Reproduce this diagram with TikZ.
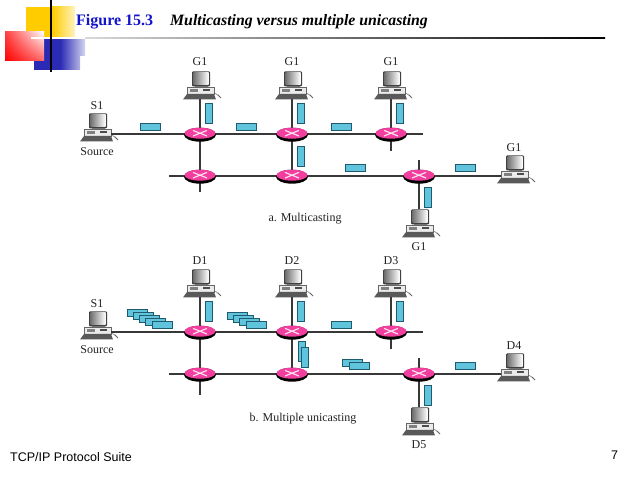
\documentclass[tikz,border=0pt]{standalone}
\usepackage{fontspec}
\setmainfont{Liberation Serif}
\newfontfamily\arialf{Liberation Sans}
\usetikzlibrary{shapes.geometric,shadings}
\definecolor{pk}{HTML}{5FC4DC}
\definecolor{pkb}{HTML}{1F5A6E}
\definecolor{rose}{HTML}{F23E9E}
\definecolor{txt}{HTML}{222222}
\definecolor{figblue}{HTML}{1414C8}
\definecolor{dkblue}{HTML}{2A2AB4}
\definecolor{gold}{HTML}{FFCC00}
\tikzset{
  lbl/.style={font=\fontsize{12}{14}\selectfont,text=txt,inner sep=0pt},
  wire/.style={draw=black!78,line width=1.2pt},
  hpk/.style={draw=pkb,fill=pk,line width=.6pt,minimum width=20pt,minimum height=7pt,inner sep=0pt},
  vpk/.style={draw=pkb,fill=pk,line width=.6pt,minimum width=7pt,minimum height=20pt,inner sep=0pt},
  rtbase/.style={ellipse,fill=black,minimum width=32pt,minimum height=14pt,inner sep=0pt},
}
% computer: #1 name, #2 x, #3 y (monitor centre)
\newcommand{\pcat}[3]{%
  \begin{scope}[shift={(#2,#3)}]
    \fill[black!75,rounded corners=1pt] (-8,-8.5) rectangle (10,6.5);
    \shade[left color=black!55,right color=white] (-6.5,-7) rectangle (8.5,5);
    \fill[black!55] (-5,6.5) rectangle (8,7.5);
    \fill[black!8] (-13,7.5) rectangle (14,14);
    \draw[black!60,line width=.5pt] (-13,7.5) rectangle (14,14);
    \fill[black!50] (-10,9.5) rectangle (-2,11.8);
    \fill[black!70] (3,9.5) rectangle (10,11);
    \fill[black!65] (-13,14) -- (14,14) -- (16,19.5) -- (-17,19.5) -- cycle;
    \draw[black!60,line width=.5pt] (14,13) .. controls (16,13) and (17,15) .. (19,16);
    \draw[black!60,line width=.9pt] (18,15) -- (21,18);
    \coordinate (#1) at (0,-8.5);
    \coordinate (#1b) at (0,19.5);
    \coordinate (#1r) at (14,12);
    \coordinate (#1l) at (-13,12);
  \end{scope}}
% router
\newcommand{\rtr}[3]{%
  \node[rtbase] (#1b) at (#2,#3+.7) {};
  \node[ellipse,fill=rose,minimum width=31pt,minimum height=11pt,inner sep=0pt] (#1) at (#2,#3-.8) {};
  \draw[white!85!rose,line width=1.2pt] (#2-7,#3-3.6) -- (#2+7,#3+2) (#2-7,#3+2) -- (#2+7,#3-3.6);}
\begin{document}
\begin{tikzpicture}[x=1pt,y=-1pt]
\useasboundingbox (0,0) rectangle (638,478);
\fill[white] (0,0) rectangle (638,478);
% decoration
\fill[gold] (26,7) rectangle (52,37);
\shade[left color=gold,right color=gold!25] (52,7) rectangle (75,37);
\fill[dkblue] (34,39) rectangle (60,70);
\shade[left color=dkblue,right color=dkblue!20] (60,39) -- (60,70) -- (80,70) -- (80,56) -- (85,56) -- (85,39) -- cycle;
\shade[lower left=red,upper right=white,lower right=red!60,upper left=red!75] (5,32) rectangle (44,61);
\shade[left color=black!15,right color=black] (85,37.2) rectangle (605,38.8);
\fill[white] (31,37.2) rectangle (85,38.8);
\fill[black] (49.5,0) rectangle (51.5,72);
\node[anchor=base west,inner sep=0pt,text=figblue,font=\fontsize{16}{18}\selectfont\bfseries] (figt) at (76,25.5) {Figure 15.3};
\node[anchor=base west,inner sep=0pt,text=black,font=\fontsize{15.8}{18}\selectfont\bfseries\itshape] (figc) at (170,25.5) {Multicasting versus multiple unicasting};
\node[anchor=base west,inner sep=0pt,font=\fontsize{12.5}{14}\selectfont\arialf] (foot) at (10,462) {TCP/IP Protocol Suite};
\node[anchor=base west,inner sep=0pt,font=\fontsize{12.5}{14}\selectfont\arialf] (pageno) at (611,460) {7};
% part a
\pcat{as}{97}{122}
\pcat{a1}{200}{80}
\pcat{a2}{292}{80}
\pcat{a3}{391}{80}
\pcat{a4}{514}{164}
\pcat{a5}{419}{218}
\coordinate (atopend) at (423,134);
\coordinate (a3down) at (391,151);
\coordinate (a6down) at (200,192);
\coordinate (abotleft) at (169,176);
\coordinate (a7up) at (419,160);
\coordinate (ra5c) at (292,176);
\draw[wire] (asr) -- (atopend);
\draw[wire] (abotleft) -- (a4l);
\draw[wire] (a1b) -- (a6down);
\draw[wire] (a2b) -- (ra5c);
\draw[wire] (a3b) -- (a3down);
\draw[wire] (a7up) -- (a5);
\rtr{ra1}{200}{134}\rtr{ra2}{292}{134}\rtr{ra3}{391}{134}
\rtr{ra4}{200}{176}\rtr{ra5}{292}{176}\rtr{ra6}{419}{176}
\foreach \n/\x/\y in {p1/150/127,p2/246/127,p3/341/127,p4/355/168,p5/465/168}
  \node[hpk] (a\n) at (\x,\y) {};
\foreach \n/\x/\y in {v1/209/113,v2/301/113,v3/400/113,v4/301/156,v5/428/197}
  \node[vpk] (a\n) at (\x,\y) {};
\node[lbl] (la1) at (200,62) {G1};
\node[lbl] (la2) at (292,62) {G1};
\node[lbl] (la3) at (391,62) {G1};
\node[lbl] (las) at (97,106) {S1};
\node[lbl] (lasrc) at (97,152) {Source};
\node[lbl] (la4) at (514,148) {G1};
\node[lbl] (la5) at (419,247) {G1};
\node[lbl] (lcapa) at (305,219) {a. Multicasting};
% part b
\pcat{bs}{97}{320}
\pcat{b1}{200}{278}
\pcat{b2}{292}{278}
\pcat{b3}{391}{278}
\pcat{b4}{514}{362}
\pcat{b5}{419}{416}
\coordinate (btopend) at (423,332);
\coordinate (b3down) at (391,349);
\coordinate (b6down) at (200,395);
\coordinate (bbotleft) at (169,374);
\coordinate (b7up) at (419,358);
\coordinate (rb5c) at (292,374);
\draw[wire] (bsr) -- (btopend);
\draw[wire] (bbotleft) -- (b4l);
\draw[wire] (b1b) -- (b6down);
\draw[wire] (b2b) -- (rb5c);
\draw[wire] (b3b) -- (b3down);
\draw[wire] (b7up) -- (b5);
\rtr{rb1}{200}{332}\rtr{rb2}{292}{332}\rtr{rb3}{391}{332}
\rtr{rb4}{200}{374}\rtr{rb5}{292}{374}\rtr{rb6}{419}{374}
\foreach \n/\x/\y in {s1/137/313,s2/143/316,s3/149/319,s4/155/322,s5/162/325,t1/237/316,t2/243/319,t3/249/322,t4/256/325,p1/341/325,u1/352/363,u2/359/366,p2/465/366}
  \node[hpk] (b\n) at (\x,\y) {};
\foreach \n/\x/\y in {v1/209/311,v2/301/311,v3/400/311,w1/301.5/351.5,w2/304.5/357.5,v5/428/395}
  \node[vpk] (b\n) at (\x,\y) {};
\node[lbl] (lb1) at (200,261) {D1};
\node[lbl] (lb2) at (292,261) {D2};
\node[lbl] (lb3) at (391,261) {D3};
\node[lbl] (lbs) at (97,304) {S1};
\node[lbl] (lbsrc) at (97,350) {Source};
\node[lbl] (lb4) at (514,346) {D4};
\node[lbl] (lb5) at (419,445) {D5};
\node[lbl] (lcapb) at (303,419) {b. Multiple unicasting};
\end{tikzpicture}
\end{document}
